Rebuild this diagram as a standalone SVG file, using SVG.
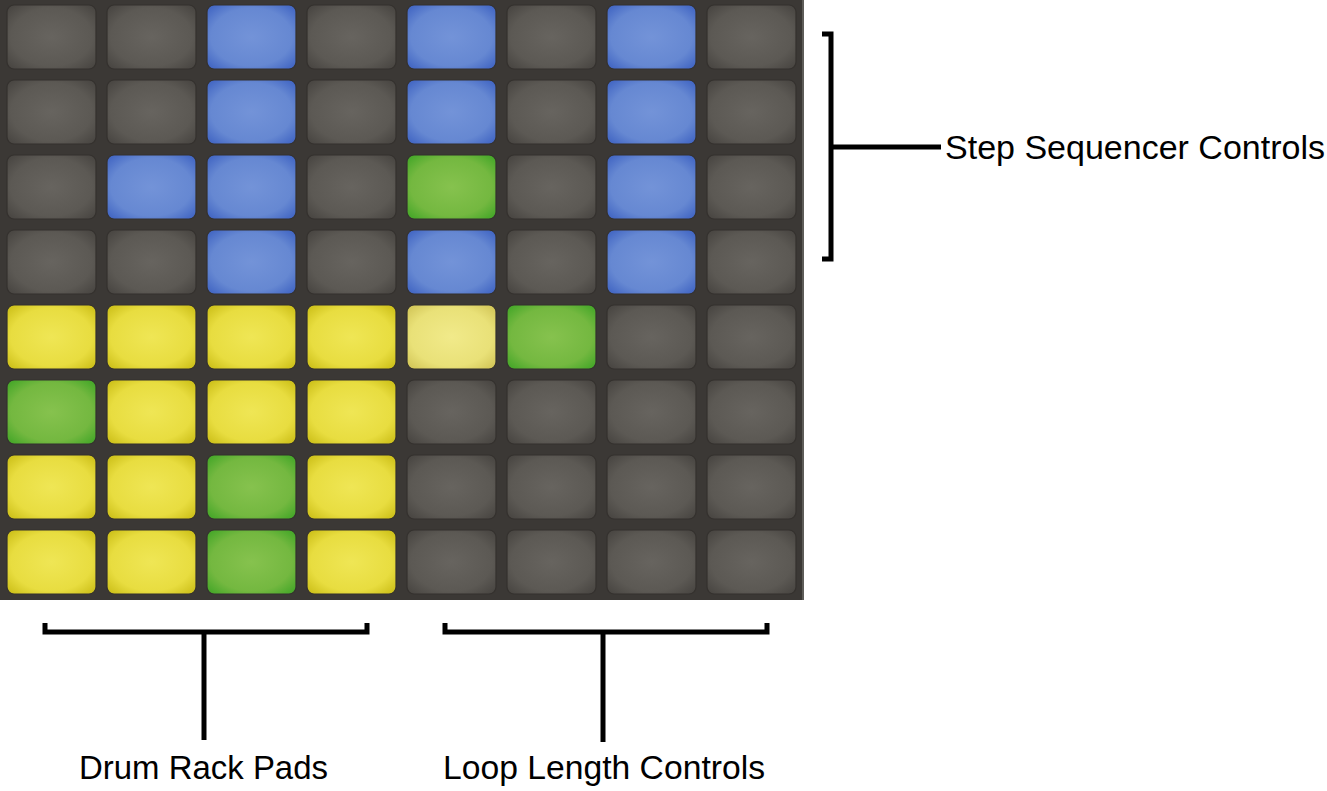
<svg xmlns="http://www.w3.org/2000/svg" width="1327" height="791" viewBox="0 0 1327 791">
<style>
.pad{stroke:#34312e;stroke-width:1.2}
.g{fill:url(#gGray)}
.b{fill:url(#gBlue)}
.y{fill:url(#gYellow)}
.ly{fill:url(#gLight)}
.gr{fill:url(#gGreen)}
.br{stroke:#000;stroke-width:5;fill:none}
.lbl{font-family:"Liberation Sans",Arial,sans-serif;font-size:34px;fill:#000}
</style>
<defs>
<radialGradient id="gGray" cx="50%" cy="50%" r="65%"><stop offset="0" stop-color="#67645f"/><stop offset="0.7" stop-color="#5c5954"/><stop offset="1" stop-color="#4a4743"/></radialGradient>
<radialGradient id="gBlue" cx="50%" cy="50%" r="65%"><stop offset="0" stop-color="#7393d8"/><stop offset="0.7" stop-color="#6688d2"/><stop offset="1" stop-color="#4468c4"/></radialGradient>
<radialGradient id="gYellow" cx="50%" cy="50%" r="65%"><stop offset="0" stop-color="#efe655"/><stop offset="0.7" stop-color="#e8dd40"/><stop offset="1" stop-color="#cfc21c"/></radialGradient>
<radialGradient id="gLight" cx="50%" cy="50%" r="65%"><stop offset="0" stop-color="#f1ea8a"/><stop offset="0.7" stop-color="#e9e178"/><stop offset="1" stop-color="#d4c85a"/></radialGradient>
<radialGradient id="gGreen" cx="50%" cy="50%" r="65%"><stop offset="0" stop-color="#86c24e"/><stop offset="0.7" stop-color="#74b840"/><stop offset="1" stop-color="#48a82a"/></radialGradient>
</defs>
<rect width="1327" height="791" fill="#fff"/>
<g id="grid">
<rect x="0" y="0" width="804" height="600" fill="#3b3835"/>
<line x1="803" y1="0" x2="803" y2="600" stroke="#6a6864" stroke-width="1.5"/>
</g>
<g id="pads">
<rect class="pad g" x="7" y="5" width="89" height="64" rx="7"/>
<rect class="pad g" x="107" y="5" width="89" height="64" rx="7"/>
<rect class="pad b" x="207" y="5" width="89" height="64" rx="7"/>
<rect class="pad g" x="307" y="5" width="89" height="64" rx="7"/>
<rect class="pad b" x="407" y="5" width="89" height="64" rx="7"/>
<rect class="pad g" x="507" y="5" width="89" height="64" rx="7"/>
<rect class="pad b" x="607" y="5" width="89" height="64" rx="7"/>
<rect class="pad g" x="707" y="5" width="89" height="64" rx="7"/>
<rect class="pad g" x="7" y="80" width="89" height="64" rx="7"/>
<rect class="pad g" x="107" y="80" width="89" height="64" rx="7"/>
<rect class="pad b" x="207" y="80" width="89" height="64" rx="7"/>
<rect class="pad g" x="307" y="80" width="89" height="64" rx="7"/>
<rect class="pad b" x="407" y="80" width="89" height="64" rx="7"/>
<rect class="pad g" x="507" y="80" width="89" height="64" rx="7"/>
<rect class="pad b" x="607" y="80" width="89" height="64" rx="7"/>
<rect class="pad g" x="707" y="80" width="89" height="64" rx="7"/>
<rect class="pad g" x="7" y="155" width="89" height="64" rx="7"/>
<rect class="pad b" x="107" y="155" width="89" height="64" rx="7"/>
<rect class="pad b" x="207" y="155" width="89" height="64" rx="7"/>
<rect class="pad g" x="307" y="155" width="89" height="64" rx="7"/>
<rect class="pad gr" x="407" y="155" width="89" height="64" rx="7"/>
<rect class="pad g" x="507" y="155" width="89" height="64" rx="7"/>
<rect class="pad b" x="607" y="155" width="89" height="64" rx="7"/>
<rect class="pad g" x="707" y="155" width="89" height="64" rx="7"/>
<rect class="pad g" x="7" y="230" width="89" height="64" rx="7"/>
<rect class="pad g" x="107" y="230" width="89" height="64" rx="7"/>
<rect class="pad b" x="207" y="230" width="89" height="64" rx="7"/>
<rect class="pad g" x="307" y="230" width="89" height="64" rx="7"/>
<rect class="pad b" x="407" y="230" width="89" height="64" rx="7"/>
<rect class="pad g" x="507" y="230" width="89" height="64" rx="7"/>
<rect class="pad b" x="607" y="230" width="89" height="64" rx="7"/>
<rect class="pad g" x="707" y="230" width="89" height="64" rx="7"/>
<rect class="pad y" x="7" y="305" width="89" height="64" rx="7"/>
<rect class="pad y" x="107" y="305" width="89" height="64" rx="7"/>
<rect class="pad y" x="207" y="305" width="89" height="64" rx="7"/>
<rect class="pad y" x="307" y="305" width="89" height="64" rx="7"/>
<rect class="pad ly" x="407" y="305" width="89" height="64" rx="7"/>
<rect class="pad gr" x="507" y="305" width="89" height="64" rx="7"/>
<rect class="pad g" x="607" y="305" width="89" height="64" rx="7"/>
<rect class="pad g" x="707" y="305" width="89" height="64" rx="7"/>
<rect class="pad gr" x="7" y="380" width="89" height="64" rx="7"/>
<rect class="pad y" x="107" y="380" width="89" height="64" rx="7"/>
<rect class="pad y" x="207" y="380" width="89" height="64" rx="7"/>
<rect class="pad y" x="307" y="380" width="89" height="64" rx="7"/>
<rect class="pad g" x="407" y="380" width="89" height="64" rx="7"/>
<rect class="pad g" x="507" y="380" width="89" height="64" rx="7"/>
<rect class="pad g" x="607" y="380" width="89" height="64" rx="7"/>
<rect class="pad g" x="707" y="380" width="89" height="64" rx="7"/>
<rect class="pad y" x="7" y="455" width="89" height="64" rx="7"/>
<rect class="pad y" x="107" y="455" width="89" height="64" rx="7"/>
<rect class="pad gr" x="207" y="455" width="89" height="64" rx="7"/>
<rect class="pad y" x="307" y="455" width="89" height="64" rx="7"/>
<rect class="pad g" x="407" y="455" width="89" height="64" rx="7"/>
<rect class="pad g" x="507" y="455" width="89" height="64" rx="7"/>
<rect class="pad g" x="607" y="455" width="89" height="64" rx="7"/>
<rect class="pad g" x="707" y="455" width="89" height="64" rx="7"/>
<rect class="pad y" x="7" y="530" width="89" height="64" rx="7"/>
<rect class="pad y" x="107" y="530" width="89" height="64" rx="7"/>
<rect class="pad gr" x="207" y="530" width="89" height="64" rx="7"/>
<rect class="pad y" x="307" y="530" width="89" height="64" rx="7"/>
<rect class="pad g" x="407" y="530" width="89" height="64" rx="7"/>
<rect class="pad g" x="507" y="530" width="89" height="64" rx="7"/>
<rect class="pad g" x="607" y="530" width="89" height="64" rx="7"/>
<rect class="pad g" x="707" y="530" width="89" height="64" rx="7"/>
</g>
<g id="connectors">
<path class="br" d="M822,34 H831 V259 H822"/>
<line class="br" x1="831" y1="147" x2="941" y2="147"/>
<path class="br" d="M45,623 V632 H367 V623"/>
<line class="br" x1="204" y1="632" x2="204" y2="740"/>
<path class="br" d="M445,623 V632 H767 V623"/>
<line class="br" x1="603" y1="632" x2="603" y2="742"/>
</g>
<g id="label-step">
<text class="lbl" x="945" y="159" textLength="380" lengthAdjust="spacingAndGlyphs">Step Sequencer Controls</text>
</g>
<g id="label-drum">
<text class="lbl" x="79" y="779" textLength="249" lengthAdjust="spacingAndGlyphs">Drum Rack Pads</text>
</g>
<g id="label-loop">
<text class="lbl" x="443" y="779" textLength="322" lengthAdjust="spacingAndGlyphs">Loop Length Controls</text>
</g>
</svg>
